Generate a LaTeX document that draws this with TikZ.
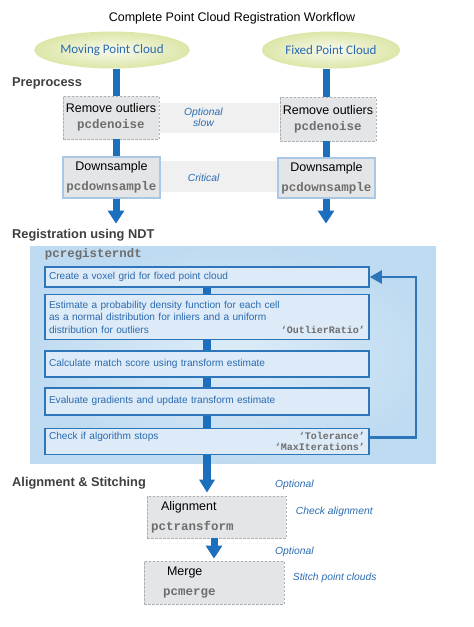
\documentclass[tikz,border=0pt]{standalone}
\usepackage{fontspec}
\setmainfont{Liberation Sans}
\setmonofont{Liberation Mono}
\newfontfamily\cloudfont{Carlito}
\usetikzlibrary{positioning,calc,arrows.meta,shapes.geometric}

\definecolor{barblue}{HTML}{1C6FBD}
\definecolor{stepblue}{HTML}{2E76BA}
\definecolor{stepfill}{HTML}{DDEAF7}
\definecolor{textblue}{HTML}{2A6BB0}
\definecolor{codegray}{HTML}{6E6E6E}
\definecolor{boxgray}{HTML}{E4E5E7}
\definecolor{bandgray}{HTML}{F0F0F1}
\definecolor{dashgray}{HTML}{ABB0B5}
\definecolor{dsborder}{HTML}{A8C8E6}
\definecolor{headgray}{HTML}{3F3F3F}
\definecolor{cloudfill}{HTML}{DDE6A8}
\definecolor{ndtbg}{HTML}{BFDBF1}
\definecolor{ndtlight}{HTML}{DDECF8}

\newcommand{\code}[1]{{\ttfamily\bfseries\color{codegray}#1}}
\newcommand{\stepcode}[1]{{\ttfamily\bfseries\fontsize{10}{11}\selectfont\color{codegray}#1}}
\newcommand{\pushright}{\hspace{0pt plus 1filll}}

\tikzstyle{cloud} = [ellipse, minimum width=125pt, minimum height=37pt, inner color=cloudfill!20!white, outer color=cloudfill, text=textblue, font=\cloudfont\fontsize{13}{15}\selectfont]
\tikzstyle{prebox} = [draw=dashgray, line width=0.8pt, dash pattern=on 2.5pt off 1.5pt, fill=boxgray, minimum width=96pt, minimum height=43pt, inner sep=2pt, align=center, font=\fontsize{12.5}{16}\selectfont]
\tikzstyle{dsbox} = [draw=dsborder, line width=1.2pt, fill=boxgray, minimum width=97pt, minimum height=41pt, inner sep=2pt, align=center, font=\fontsize{12.5}{16}\selectfont]
\tikzstyle{stepbox} = [draw=stepblue, line width=1.6pt, fill=stepfill, minimum width=324pt, text width=316pt, inner xsep=4pt, inner ysep=2pt, align=left, text=textblue, font=\fontsize{10.1}{12.6}\selectfont]
\tikzstyle{note} = [text=textblue, align=center, font=\itshape\fontsize{10.3}{11}\selectfont]
\tikzstyle{head} = [anchor=west, inner sep=0pt, text=headgray, font=\bfseries\fontsize{12.8}{15}\selectfont]
\tikzstyle{bar} = [draw=barblue, line width=7pt]
\tikzstyle{bararrow} = [bar, -{Triangle[width=16pt,length=13pt]}]
\tikzstyle{stepbar} = [draw=barblue, line width=8pt]

\begin{document}
\begin{tikzpicture}[x=1pt,y=-1pt]
		\useasboundingbox (0,0) rectangle (474,627);
		% columns of the two bars
		\coordinate (lcol) at (116,0);
		\coordinate (rcol) at (326,0);

		% title
		\node[font=\fontsize{12.5}{15}\selectfont] (title) at (232,18) {Complete Point Cloud Registration Workflow};

		% clouds
		\node[cloud] (mov) at (112,50) {Moving Point Cloud};
		\node[cloud] (fix) at (331,50) {Fixed Point Cloud};

		% preprocess
		\node[head] (hpre) at (12,83) {Preprocess};
		\node[prebox] (rm0) at (111,117.5) {Remove outliers\\\code{pcdenoise}};
		\node[prebox, minimum height=44pt] (rm1) at (328,119) {Remove outliers\\\code{pcdenoise}};
		\node[dsbox] (ds0) at (111.5,177.5) {Downsample\\[4pt]\code{pcdownsample}};
		\node[dsbox, minimum height=40pt] (ds1) at (326.5,178) {Downsample\\[4pt]\code{pcdownsample}};

		% bands between the columns
		\fill[bandgray] ($(rm0.east)+(0.6,-15)$) rectangle ($(rm1.west)+(-0.6,14)$);
		\node[note] (optslow) at ($(rm0.east)+(44,0)$) {Optional\\slow};
		\fill[bandgray] ($(ds0.east)+(0.6,-16.5)$) rectangle ($(ds1.west)+(-0.6,14)$);
		\node[note] (crit) at ($(ds0.east)+(43,0)$) {Critical};

		% join clouds to boxes
		\draw[bar] (mov.south -| lcol) -- (rm0.north -| lcol);
		\draw[bar] (rm0.south -| lcol) -- (ds0.north -| lcol);
		\coordinate (lend) at ($(ds0.south -| lcol)+(0,25)$);
		\draw[bararrow] (ds0.south -| lcol) -- (lend);
		\draw[bar] (fix.south -| rcol) -- (rm1.north -| rcol);
		\draw[bar] (rm1.south -| rcol) -- (ds1.north -| rcol);
		\coordinate (rend) at ($(ds1.south -| rcol)+(0,25)$);
		\draw[bararrow] (ds1.south -| rcol) -- (rend);

		% registration
		\node[head] (hreg) at (12,235) {Registration using NDT};
		\node[inner color=ndtlight, outer color=ndtbg, minimum width=406pt, minimum height=217pt] (ndt) at (233,354.5) {};
		\node[anchor=west, inner sep=0pt, font=\fontsize{12.4}{14}\selectfont] (ndtname) at ($(ndt.north west)+(15,9)$) {\code{pcregisterndt}};

		\node[stepbox, minimum height=20pt] (s1) at (207,277) {Create a voxel grid for fixed point cloud};
		\node[stepbox, minimum height=45pt, below=6pt of s1] (s2) {Estimate a probability density function for each cell\\as a normal distribution for inliers and a uniform\\distribution for outliers\pushright\stepcode{‘OutlierRatio’}};
		\node[stepbox, minimum height=26pt, below=10pt of s2] (s3) {Calculate match score using transform estimate};
		\node[stepbox, minimum height=27pt, below=9pt of s3] (s4) {Evaluate gradients and update transform estimate};
		\node[stepbox, minimum height=26pt, below=12pt of s4, font=\fontsize{10.1}{11}\selectfont] (s5) {Check if algorithm stops\pushright\stepcode{‘Tolerance’}\\\pushright\stepcode{‘MaxIterations’}};

		% join the steps
		\draw[stepbar] (s1.south) -- (s2.north);
		\draw[stepbar] (s2.south) -- (s3.north);
		\draw[stepbar] (s3.south) -- (s4.north);
		\draw[stepbar] (s4.south) -- (s5.north);
		\draw[stepblue, line width=2.4pt, -{Triangle[width=13pt,length=12pt]}] ([yshift=4pt]s5.east) -- ++(46,0) |- (s1.east);

		% alignment and stitching
		\node[head] (haln) at (12,483) {Alignment \& Stitching};
		\node[prebox, minimum width=139pt, minimum height=42pt, text width=131pt, inner xsep=4pt, align=left] (al) at (216.5,517) {\hspace*{10pt}Alignment\\[4pt]\code{pctransform}};
		\node[prebox, minimum width=140pt, minimum height=43pt, text width=102pt, inner xsep=19pt, align=left] (mg) at (214,582.5) {\hspace*{4pt}Merge\\[4pt]\code{pcmerge}};

		\node[note] (optal) at ($(al.north east)+(8,-11)$) {Optional};
		\node[note, anchor=west] (chk) at ($(al.east)+(6,-5)$) {Check alignment};
		\node[note] (optmg) at ($(mg.north east)+(10,-9)$) {Optional};
		\node[note, anchor=west] (stc) at ($(mg.east)+(5,-4.5)$) {Stitch point clouds};

		% join steps to alignment and merge
		\coordinate (alin) at ($(al.north -| s5.south)+(0,-3)$);
		\draw[stepbar, -{Triangle[width=15pt,length=13pt]}] (s5.south) -- (alin);
		\coordinate (mgin) at ($(mg.north)+(0,-2)$);
		\draw[bararrow] (al.south -| mg.north) -- (mgin);
	\end{tikzpicture}
\end{document}
